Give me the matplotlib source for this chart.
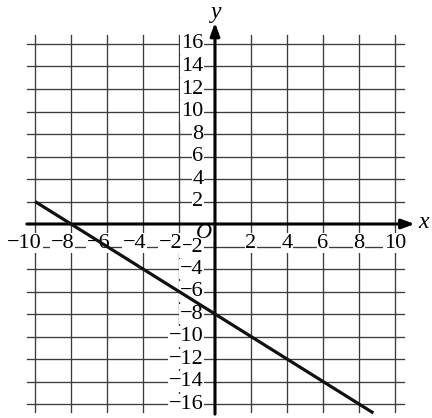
import matplotlib.pyplot as plt

# tick values and labels
x_ticks = [-10, -8, -6, -4, -2, 2, 4, 6, 8, 10]
y_ticks = [-16, -14, -12, -10, -8, -6, -4, -2, 2, 4, 6, 8, 10, 12, 14, 16]
grid_x = [-10, -8, -6, -4, -2, 2, 4, 6, 8, 10]
grid_y = [-16, -14, -12, -10, -8, -6, -4, -2, 2, 4, 6, 8, 10, 12, 14, 16]

# the plotted line  y = -x - 8
line_x = [-10, 8.8]
line_y = [2, -16.8]

plt.rcParams['font.family'] = ['Liberation Serif', 'DejaVu Serif']

fig = plt.figure(figsize=(4.32, 4.18), dpi=100)
ax = fig.add_axes([0, 0, 1, 1])
ax.set_xlim(-11.944, 12.056)
ax.set_ylim(-17.244, 19.911)
ax.axis('off')

grid_color = '#3c3c3c'
for gx in grid_x:
    ax.plot([gx, gx], [-16.75, 16.8], color=grid_color, lw=0.95, zorder=1)
for gy in grid_y:
    ax.plot([-10.45, 10.5], [gy, gy], color=grid_color, lw=0.95, zorder=1)

# axes with arrows
ax.annotate('', xy=(11.1, 0), xytext=(-10.45, 0),
            arrowprops=dict(arrowstyle='-|>,head_length=0.55,head_width=0.2',
                            mutation_scale=14, lw=2.2, color='black',
                            shrinkA=0, shrinkB=0), zorder=3)
ax.annotate('', xy=(0, 17.9), xytext=(0, -16.9),
            arrowprops=dict(arrowstyle='-|>,head_length=0.55,head_width=0.2',
                            mutation_scale=14, lw=2.2, color='black',
                            shrinkA=0, shrinkB=0), zorder=3)

box = dict(facecolor='white', edgecolor='none', pad=0.4)

# y tick labels
for t in y_ticks:
    label = str(t).replace('-', '\u2212')
    yy = t - 0.1 if t == -2 else t
    ax.text(-0.65, yy, label, ha='right', va='center', fontsize=16, bbox=box, zorder=2)

# x tick labels: digits centred on the grid line, minus hanging left
for t in x_ticks:
    label = str(t).replace('-', '\u2212')
    if t < 0:
        nd = len(str(abs(t)))
        ax.annotate(label, (t, -1.7), xytext=(nd * 2.5, 0), textcoords='offset points',
                    ha='right', va='center', fontsize=16, bbox=box, zorder=2.5)
    else:
        ax.text(t, -1.7, label, ha='center', va='center', fontsize=16, bbox=box, zorder=2.5)

ax.text(-0.6, -0.8, 'O', ha='center', va='center', fontsize=16, style='italic', zorder=4)
ax.text(11.6, 0.1, 'x', ha='center', va='center', fontsize=17, style='italic')
ax.text(0.05, 18.8, 'y', ha='center', va='center', fontsize=17, style='italic')

ax.plot(line_x, line_y, color='#111111', lw=2.3, solid_capstyle='butt', zorder=5)

fig.savefig('out.png', dpi=100)
